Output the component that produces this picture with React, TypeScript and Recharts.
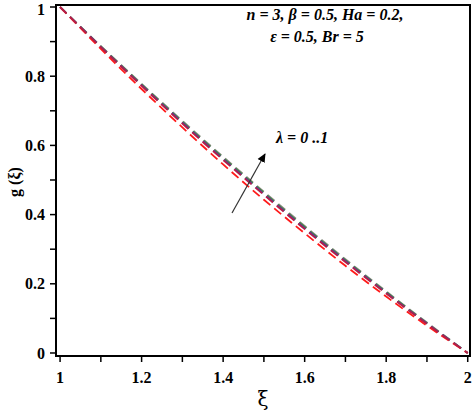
import React from "react";
import { LineChart, Line, XAxis, YAxis, ReferenceArea } from "recharts";

const xi = [1.0, 1.1, 1.2, 1.3, 1.4, 1.5, 1.6, 1.7, 1.8, 1.9, 2.0];
const gLam0 = [1, 0.879, 0.763, 0.652, 0.545, 0.443, 0.346, 0.252, 0.163, 0.079, 0];
const gLam1 = [1, 0.884, 0.772, 0.663, 0.558, 0.457, 0.358, 0.263, 0.172, 0.084, 0];
const gLam2 = [1, 0.885, 0.774, 0.666, 0.561, 0.460, 0.361, 0.266, 0.174, 0.085, 0];
const gLam3 = [1, 0.886, 0.776, 0.668, 0.564, 0.463, 0.364, 0.268, 0.176, 0.086, 0];
const gLam4 = [1, 0.887, 0.778, 0.671, 0.567, 0.466, 0.367, 0.271, 0.178, 0.088, 0];

const xTicks = [1, 1.1, 1.2, 1.3, 1.4, 1.5, 1.6, 1.7, 1.8, 1.9, 2];
const yTicks = [0, 0.1, 0.2, 0.3, 0.4, 0.5, 0.6, 0.7, 0.8, 0.9, 1];

const seriesKeys = ["l4", "l3", "l2", "l0", "l1"];
const seriesColors: Record<string, string> = {
  l0: "#ff1a1a",
  l1: "#b0204a",
  l2: "#5a3a9a",
  l3: "#3f8a3f",
  l4: "#8a8a80",
};

const data = xi.map((x, i) => ({
  x,
  l0: gLam0[i],
  l1: gLam1[i],
  l2: gLam2[i],
  l3: gLam3[i],
  l4: gLam4[i],
}));

const X_DOMAIN: [number, number] = [0.99, 2.0056];
const Y_DOMAIN: [number, number] = [-0.0087, 1.0058];

const fmtMajor = (v: number) => {
  const k = Math.round(v * 10);
  if (k % 2 !== 0) return "";
  return (k / 10).toString();
};

const tickStyle = {
  fill: "#000",
  fontFamily: "'Liberation Serif', serif",
  fontWeight: "bold" as const,
  fontSize: 16,
};

export default function App() {
  return (
    <div style={{ position: "absolute", left: 0, top: 0, width: 474, height: 410, background: "#fff" }}>
      <LineChart
        width={474}
        height={410}
        data={data}
        margin={{ top: 5, right: 4, bottom: 0, left: 0 }}
      >
        <XAxis
          dataKey="x"
          type="number"
          domain={X_DOMAIN}
          ticks={xTicks}
          tickFormatter={fmtMajor}
          allowDataOverflow
          height={54}
          tickSize={6}
          tickMargin={10}
          tick={tickStyle}
          axisLine={{ stroke: "#000", strokeWidth: 2 }}
          tickLine={{ stroke: "#000", strokeWidth: 1.5 }}
        />
        <YAxis
          type="number"
          domain={Y_DOMAIN}
          ticks={yTicks}
          tickFormatter={fmtMajor}
          allowDataOverflow
          width={56}
          tickSize={6}
          tickMargin={5}
          tick={tickStyle}
          axisLine={{ stroke: "#000", strokeWidth: 2 }}
          tickLine={{ stroke: "#000", strokeWidth: 1.5 }}
        />
        <ReferenceArea
          x1={X_DOMAIN[0]}
          x2={X_DOMAIN[1]}
          y1={Y_DOMAIN[0]}
          y2={Y_DOMAIN[1]}
          fill="none"
          stroke="#000"
          strokeWidth={2}
          fillOpacity={0}
          ifOverflow="visible"
        />
        {seriesKeys.map((k) => (
          <Line
            key={k}
            dataKey={k}
            type="monotone"
            stroke={seriesColors[k]}
            strokeWidth={1.8}
            strokeDasharray="9 5"
            dot={false}
            activeDot={false}
            isAnimationActive={false}
          />
        ))}
      </LineChart>
      <svg
        width={474}
        height={410}
        style={{ position: "absolute", left: 0, top: 0, pointerEvents: "none" }}
      >
        <defs>
          <marker id="arrowHead" markerWidth="10" markerHeight="10" refX="8" refY="5" orient="auto" markerUnits="userSpaceOnUse">
            <path d="M0,1 L9,5 L0,9 Z" fill="#000" />
          </marker>
        </defs>
        <g fontFamily="'Liberation Serif', serif" fontWeight="bold" fontStyle="italic" fontSize={16} fill="#000">
          <text x={325} y={20} textAnchor="middle">n = 3, β = 0.5, Ha = 0.2,</text>
          <text x={317} y={42} textAnchor="middle">ε = 0.5, Br = 5</text>
          <text x={276} y={143}>λ = 0 ..1</text>
        </g>
        <line x1={232} y1={213} x2={265} y2={154} stroke="#333" strokeWidth={1.2} markerEnd="url(#arrowHead)" />
        <text x={263} y={406} textAnchor="middle" fontFamily="'DejaVu Serif', serif" fontSize={20} fill="#000">ξ</text>
        <text
          x={16}
          y={182}
          textAnchor="middle"
          dominantBaseline="middle"
          transform="rotate(-90 16 182)"
          fontFamily="'Liberation Serif', serif"
          fontWeight="bold"
          fontSize={16}
          fill="#000"
        >
          g (ξ)
        </text>
      </svg>
    </div>
  );
}
